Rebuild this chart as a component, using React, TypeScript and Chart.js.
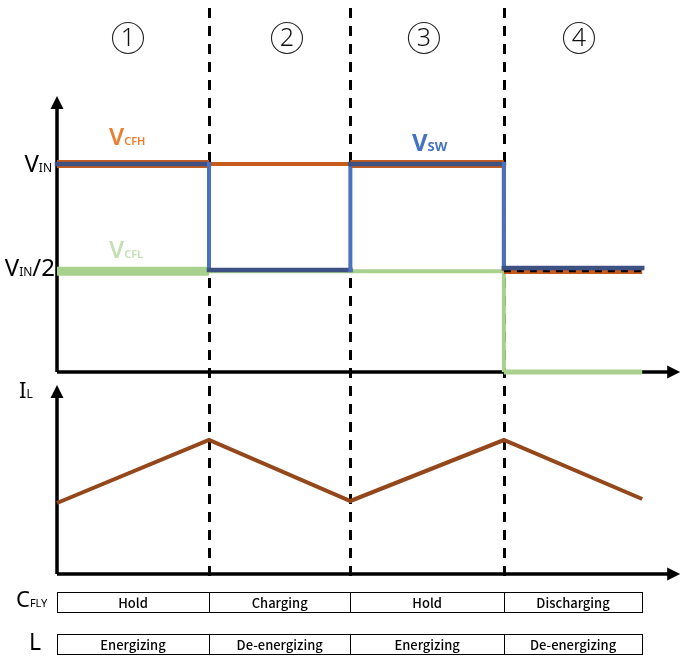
import React, { useEffect, useRef } from "react";
import { Chart, registerables } from "chart.js";

Chart.register(...registerables);

// ---- data (time in switching-phase units, voltage in VIN units, current in peak units)
const phaseNames = ["1", "2", "3", "4"];
const phaseLabelPos = [0.467, 1.513, 2.414, 3.434];
const phaseEdges = [0, 1.0, 1.93, 2.94, 3.85];
const vswLevels = [1.0, 0.49, 1.0, 0.5];
const vcfhLevels = [1.0, 1.0, 1.0, 0.486];
const vcflLevels = [0.485, 0.485, 0.485, 0.0];
const markerPhase = [3];
const markerLevels = [0.486];
const ilValues = [0.53, 1.0, 0.545, 1.0, 0.56];
const vTickValues = [1, 0.5];
const vTickSuffix = ["", "/2"];
const cflyStates = ["Hold", "Charging", "Hold", "Discharging"];
const inductorStates = ["Energizing", "De-energizing", "Energizing", "De-energizing"];

// ---- styles
const ORANGE = "#C65B1C";
const NAVY = "#3D5283";
const BLUE = "#4A72C0";
const GREEN = "#A9D18E";
const BROWN = "#94471B";
const FONT = "'Noto Sans', 'DejaVu Sans', sans-serif";
const TABLE_FONT = "'Noto Sans CJK KR', 'Noto Sans', sans-serif";
const vcfhWidths = [8, 4, 8, 6];
const vcflWidths = [9, 4, 4, 5];

function steps(levels: number[]) {
  const pts: { x: number; y: number }[] = [];
  levels.forEach((lv, i) => {
    pts.push({ x: phaseEdges[i], y: lv });
    pts.push({ x: phaseEdges[i + 1], y: lv });
  });
  return pts;
}

function drawParts(
  ctx: CanvasRenderingContext2D,
  x: number,
  baseline: number,
  parts: [string, number, string?][],
  color: string,
  align: "left" | "right"
) {
  ctx.save();
  ctx.fillStyle = color;
  ctx.textBaseline = "alphabetic";
  ctx.textAlign = "left";
  let total = 0;
  parts.forEach(([t, s, w]) => {
    ctx.font = `${w || "normal"} ${s}px ${FONT}`;
    total += ctx.measureText(t).width;
  });
  let cx = align === "left" ? x : x - total;
  parts.forEach(([t, s, w]) => {
    ctx.font = `${w || "normal"} ${s}px ${FONT}`;
    ctx.fillText(t, cx, baseline);
    cx += ctx.measureText(t).width;
  });
  ctx.restore();
}

function arrowAxes(ctx: CanvasRenderingContext2D, ox: number, oy: number, xEnd: number, yEnd: number) {
  ctx.save();
  ctx.strokeStyle = "#000";
  ctx.fillStyle = "#000";
  ctx.lineWidth = 3.5;
  ctx.beginPath();
  ctx.moveTo(ox, oy);
  ctx.lineTo(xEnd - 10, oy);
  ctx.moveTo(ox, oy);
  ctx.lineTo(ox, yEnd + 10);
  ctx.stroke();
  ctx.beginPath();
  ctx.moveTo(xEnd, oy);
  ctx.lineTo(xEnd - 13, oy - 6.5);
  ctx.lineTo(xEnd - 13, oy + 6.5);
  ctx.closePath();
  ctx.fill();
  ctx.beginPath();
  ctx.moveTo(ox, yEnd);
  ctx.lineTo(ox - 6.5, yEnd + 13);
  ctx.lineTo(ox + 6.5, yEnd + 13);
  ctx.closePath();
  ctx.fill();
  ctx.restore();
}

const diagramPlugin = {
  id: "diagram",
  beforeDatasetsDraw(chart: any) {
    const ctx: CanvasRenderingContext2D = chart.ctx;
    const xs = chart.scales.x;
    const ys = chart.scales.y;
    const yi = chart.scales.yCurrent;
    const x0 = xs.getPixelForValue(0);
    const xEnd = xs.getPixelForValue(4.1);
    arrowAxes(ctx, x0, ys.getPixelForValue(0), xEnd, ys.getPixelForValue(1.327));
    arrowAxes(ctx, x0, yi.getPixelForValue(0), xEnd, yi.getPixelForValue(1.41));
    // dashed phase boundaries
    ctx.save();
    ctx.strokeStyle = "#000";
    ctx.lineWidth = 3;
    ctx.setLineDash([10, 8]);
    for (let i = 1; i < phaseEdges.length - 1; i++) {
      const px = Math.round(xs.getPixelForValue(phaseEdges[i])) + 0.5;
      ctx.beginPath();
      ctx.moveTo(px, 8);
      ctx.lineTo(px, 580);
      ctx.stroke();
    }
    ctx.restore();
  },
  afterDatasetsDraw(chart: any) {
    const ctx: CanvasRenderingContext2D = chart.ctx;
    const xs = chart.scales.x;
    const ys = chart.scales.y;
    // circled phase numbers
    phaseNames.forEach((n, i) => {
      const cx = xs.getPixelForValue(phaseLabelPos[i]);
      const cy = 38;
      ctx.save();
      ctx.strokeStyle = "#222";
      ctx.lineWidth = 1.1;
      ctx.beginPath();
      ctx.arc(cx, cy, 15.5, 0, Math.PI * 2);
      ctx.stroke();
      ctx.fillStyle = "#111";
      ctx.font = `300 25px ${FONT}`;
      ctx.textAlign = "center";
      ctx.textBaseline = "middle";
      ctx.fillText(n, cx, cy + 1);
      ctx.restore();
    });
    // voltage tick labels
    vTickValues.forEach((v, i) => {
      const py = ys.getPixelForValue(v);
      drawParts(ctx, i === 0 ? 52 : 55, py + 8, [["V", 24], ["IN", 12], [vTickSuffix[i], 24]], "#000", "right");
    });
    // series labels
    drawParts(ctx, 109, 145, [["V", 24, "600"], ["CFH", 11, "600"]], "#ED7D31", "left");
    drawParts(ctx, 109, 258, [["V", 24, "600"], ["CFL", 11, "600"]], "#C5E0B4", "left");
    drawParts(ctx, 412, 151, [["V", 24, "bold"], ["SW", 13, "bold"]], "#4472C4", "left");
    drawParts(ctx, 19, 398, [["I", 22], ["L", 12]], "#000", "left");
    drawParts(ctx, 16, 607, [["C", 22], ["FLY", 11]], "#000", "left");
    drawParts(ctx, 29, 650, [["L", 23]], "#000", "left");
    // state table
    const rows = [
      { top: 592, states: cflyStates },
      { top: 634, states: inductorStates },
    ];
    rows.forEach((row) => {
      const h = 20;
      ctx.save();
      ctx.strokeStyle = "#000";
      ctx.lineWidth = 1;
      const left = Math.round(xs.getPixelForValue(phaseEdges[0])) + 0.5;
      const right = Math.round(xs.getPixelForValue(phaseEdges[4])) + 0.5;
      ctx.strokeRect(left, row.top + 0.5, right - left, h);
      for (let i = 1; i < phaseEdges.length - 1; i++) {
        const px = Math.round(xs.getPixelForValue(phaseEdges[i])) + 0.5;
        ctx.beginPath();
        ctx.moveTo(px, row.top);
        ctx.lineTo(px, row.top + h);
        ctx.stroke();
      }
      ctx.fillStyle = "#000";
      ctx.font = `500 13px ${TABLE_FONT}`;
      ctx.textAlign = "center";
      ctx.textBaseline = "middle";
      row.states.forEach((s, i) => {
        const cx = (xs.getPixelForValue(phaseEdges[i]) + xs.getPixelForValue(phaseEdges[i + 1])) / 2;
        ctx.fillText(s, cx, row.top + h / 2 + 1);
      });
      ctx.restore();
    });
  },
};

export default function App() {
  const ref = useRef<HTMLCanvasElement | null>(null);
  useEffect(() => {
    if (!ref.current) return;
    const markerPts: { x: number; y: number }[] = [];
    markerPhase.forEach((p, i) => {
      markerPts.push({ x: phaseEdges[p], y: markerLevels[i] });
      markerPts.push({ x: phaseEdges[p + 1], y: markerLevels[i] });
    });
    const chart = new Chart(ref.current, {
      type: "line",
      data: {
        datasets: [
          {
            label: "IL",
            data: ilValues.map((v, i) => ({ x: phaseEdges[i], y: v })),
            yAxisID: "yCurrent",
            borderColor: BROWN,
            borderWidth: 4,
            pointRadius: 0,
            order: 1,
          },
          {
            label: "VSW",
            data: steps(vswLevels),
            yAxisID: "y",
            borderColor: NAVY,
            borderWidth: 5,
            borderCapStyle: "square",
            pointRadius: 0,
            order: 2,
            segment: {
              borderColor: (c: any) => (c.p0DataIndex % 2 === 1 ? BLUE : NAVY),
              borderWidth: (c: any) => (c.p0DataIndex % 2 === 1 ? 4 : 4.5),
            },
          },
          {
            label: "phase-4 marker",
            data: markerPts,
            yAxisID: "y",
            borderColor: "#000",
            borderWidth: 2.5,
            borderDash: [7, 6],
            pointRadius: 0,
            order: 3,
          },
          {
            label: "VCFH",
            data: steps(vcfhLevels),
            yAxisID: "y",
            borderColor: ORANGE,
            borderWidth: 4,
            pointRadius: 0,
            order: 4,
            segment: {
              borderWidth: (c: any) =>
                c.p0DataIndex % 2 === 1 ? 4 : vcfhWidths[Math.floor(c.p0DataIndex / 2)],
            },
          },
          {
            label: "VCFL",
            data: steps(vcflLevels),
            yAxisID: "y",
            borderColor: GREEN,
            borderWidth: 4,
            pointRadius: 0,
            order: 5,
            segment: {
              borderWidth: (c: any) =>
                c.p0DataIndex % 2 === 1 ? 4 : vcflWidths[Math.floor(c.p0DataIndex / 2)],
            },
          },
        ],
      },
      options: {
        animation: false,
        responsive: false,
        maintainAspectRatio: false,
        layout: { padding: 0 },
        plugins: { legend: { display: false }, tooltip: { enabled: false }, title: { display: false } },
        events: [],
        scales: {
          x: { type: "linear", min: -0.375, max: 4.125, display: false },
          y: { type: "linear", axis: "y", min: -1.423, max: 1.7885, display: false },
          yCurrent: { type: "linear", axis: "y", min: -0.7015, max: 4.284, display: false },
        },
      },
      plugins: [diagramPlugin],
    } as any);
    return () => chart.destroy();
  }, []);
  return (
    <div style={{ position: "absolute", left: 0, top: 0, width: 684, height: 668, background: "#fff" }}>
      <canvas ref={ref} width={684} height={668} style={{ display: "block", width: 684, height: 668 }} />
    </div>
  );
}
